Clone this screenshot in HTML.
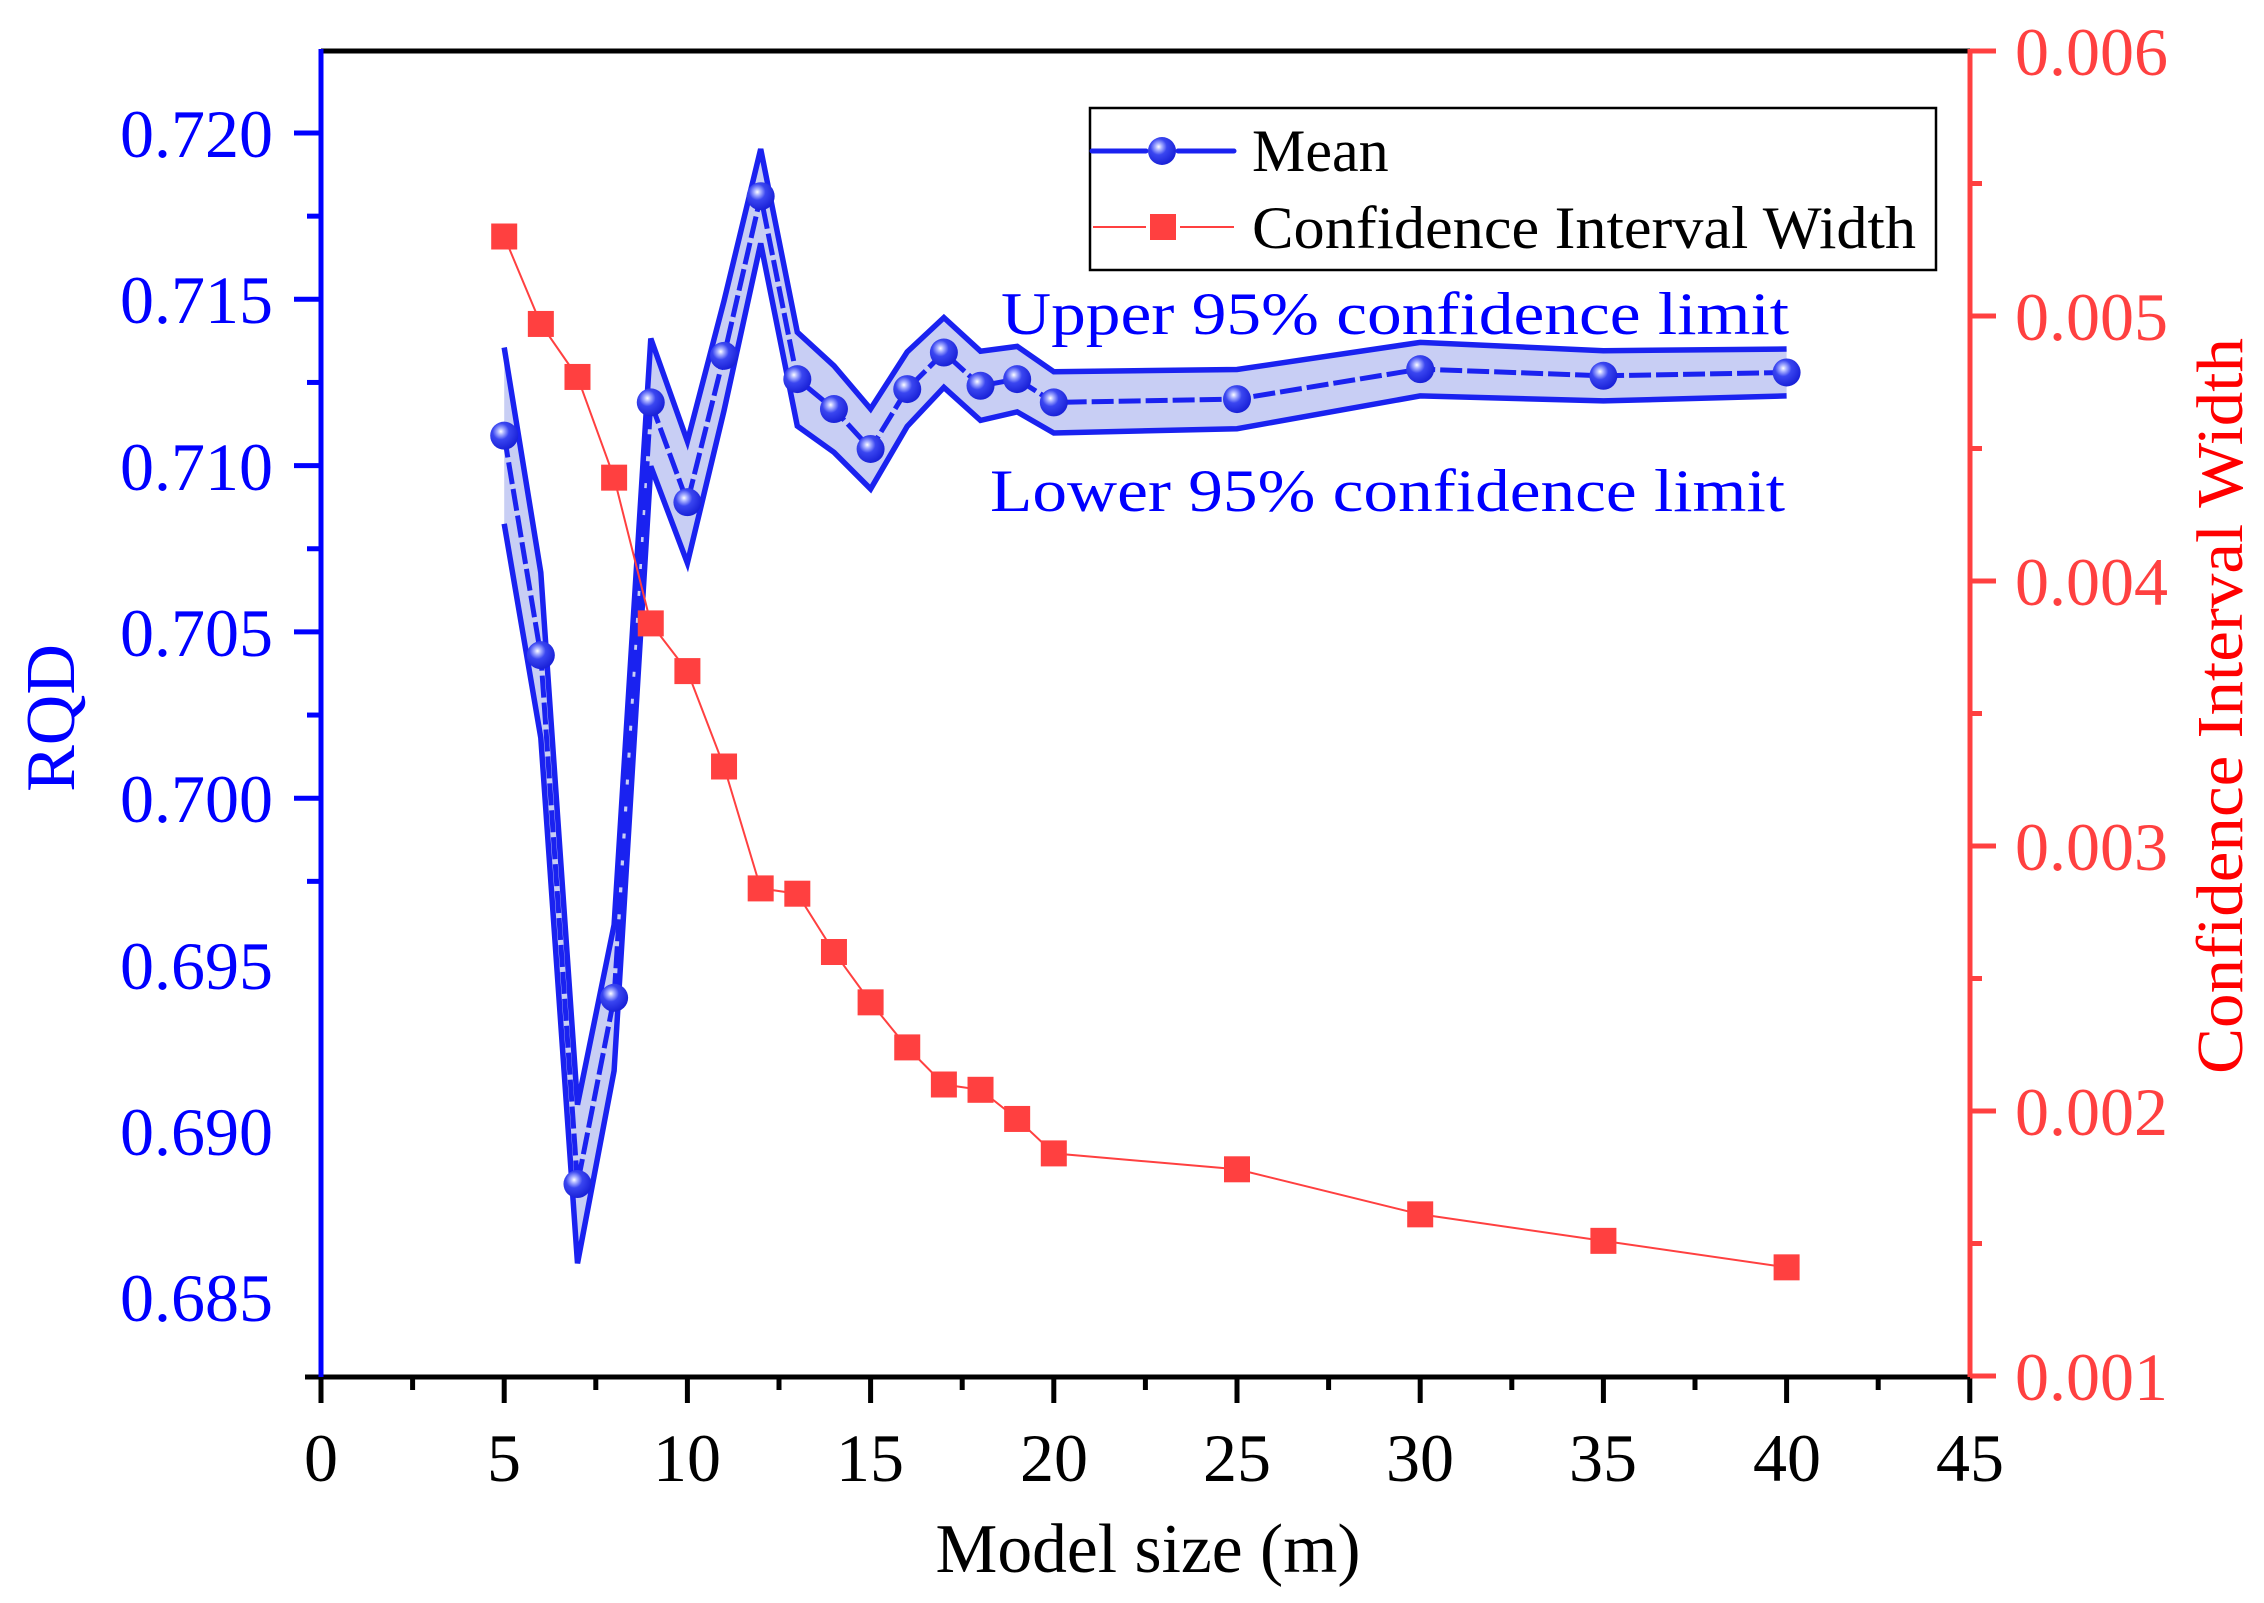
<!DOCTYPE html>
<html><head><meta charset="utf-8"><style>
html,body{margin:0;padding:0;background:#fff;}
svg{display:block;}
text{font-family:"Liberation Serif",serif;}
</style></head><body>
<svg id="s" width="2264" height="1603" viewBox="0 0 2264 1603" xmlns="http://www.w3.org/2000/svg">
<defs>
<radialGradient id="sph" cx="0.38" cy="0.35" r="0.65">
<stop offset="0" stop-color="#ffffff"/>
<stop offset="0.18" stop-color="#a8b0ff"/>
<stop offset="0.45" stop-color="#3a46f0"/>
<stop offset="1" stop-color="#1a22d8"/>
</radialGradient>
</defs>
<g id="data"></g>
<line x1="321" y1="51" x2="1970" y2="51" stroke="#000" stroke-width="5"/>
<line x1="305" y1="1377" x2="1970" y2="1377" stroke="#000" stroke-width="5"/>
<line x1="321" y1="49" x2="321" y2="1379" stroke="#0000ff" stroke-width="5"/>
<line x1="1970" y1="49" x2="1970" y2="1379" stroke="#ff4040" stroke-width="5"/>
<g id="ticks"></g>
<g fill="#0000ff" font-size="68" text-anchor="end">
<text x="273" y="157">0.720</text>
<text x="273" y="323">0.715</text>
<text x="273" y="490">0.710</text>
<text x="273" y="656">0.705</text>
<text x="273" y="822">0.700</text>
<text x="273" y="989">0.695</text>
<text x="273" y="1155">0.690</text>
<text x="273" y="1321">0.685</text>
</g>
<g fill="#ff4040" font-size="68" text-anchor="start">
<text x="2015" y="75">0.006</text>
<text x="2015" y="340">0.005</text>
<text x="2015" y="605">0.004</text>
<text x="2015" y="870">0.003</text>
<text x="2015" y="1135">0.002</text>
<text x="2015" y="1400">0.001</text>
</g>
<g fill="#000" font-size="68" text-anchor="middle">
<text x="321" y="1481">0</text>
<text x="504" y="1481">5</text>
<text x="687" y="1481">10</text>
<text x="870" y="1481">15</text>
<text x="1054" y="1481">20</text>
<text x="1237" y="1481">25</text>
<text x="1420" y="1481">30</text>
<text x="1603" y="1481">35</text>
<text x="1787" y="1481">40</text>
<text x="1970" y="1481">45</text>
</g>
<text x="1148" y="1572" font-size="70" text-anchor="middle" fill="#000" textLength="425" lengthAdjust="spacingAndGlyphs">Model size (m)</text>
<text transform="translate(74,718) rotate(-90)" font-size="70" text-anchor="middle" fill="#0000ff">RQD</text>
<text transform="translate(2242,706) rotate(-90)" font-size="66" text-anchor="middle" fill="#ff0000" textLength="736" lengthAdjust="spacingAndGlyphs">Confidence Interval Width</text>
<text x="1001" y="334" font-size="60" fill="#0000ff" textLength="788" lengthAdjust="spacingAndGlyphs">Upper 95% confidence limit</text>
<text x="990" y="511" font-size="60" fill="#0000ff" textLength="795" lengthAdjust="spacingAndGlyphs">Lower 95% confidence limit</text>
<rect x="1090" y="108" width="846" height="162" fill="#fff" stroke="#000" stroke-width="2.5"/>
<line x1="1092" y1="151" x2="1146" y2="151" stroke="#1a22f0" stroke-width="5" stroke-linecap="round"/>
<line x1="1178" y1="151" x2="1234" y2="151" stroke="#1a22f0" stroke-width="5" stroke-linecap="round"/>
<circle cx="1162" cy="151" r="14" fill="url(#sph)"/>
<line x1="1093" y1="227" x2="1146" y2="227" stroke="#ff4040" stroke-width="2"/>
<line x1="1180" y1="227" x2="1234" y2="227" stroke="#ff4040" stroke-width="2"/>
<rect x="1150" y="214" width="26" height="26" fill="#ff4040"/>
<text x="1252" y="171" font-size="60" fill="#000">Mean</text>
<text x="1252" y="248" font-size="60" fill="#000" textLength="664" lengthAdjust="spacingAndGlyphs">Confidence Interval Width</text>
</svg>
<script>
function X(v){return 321+v*36.64;}
function YL(v){return 133+(0.720-v)/0.005*166.3;}
function YR(v){return 51+(0.006-v)/0.001*265;}
var xs=[5,6,7,8,9,10,11,12,13,14,15,16,17,18,19,20,25,30,35,40];
var m=[0.7109,0.7043,0.6884,0.6940,0.7119,0.7089,0.7133,0.7181,0.7126,0.7117,0.7105,0.7123,0.7134,0.7124,0.7126,0.7119,0.7120,0.7129,0.7127,0.7128];
var ci=[0.00530,0.00497,0.00477,0.00439,0.00384,0.00366,0.00330,0.00284,0.00282,0.00260,0.00241,0.00224,0.00210,0.00208,0.00197,0.00184,0.00178,0.00161,0.00151,0.00141];
var g=document.getElementById("data"),h="";
var up=xs.map(function(x,i){return X(x).toFixed(1)+","+YL(m[i]+ci[i]/2).toFixed(1);});
var lo=xs.map(function(x,i){return X(x).toFixed(1)+","+YL(m[i]-ci[i]/2).toFixed(1);});
h+='<polygon points="'+up.join(" ")+" "+lo.slice().reverse().join(" ")+'" fill="#c8cef4"/>';
h+='<polyline points="'+up.join(" ")+'" fill="none" stroke="#1a22f0" stroke-width="5.5"/>';
h+='<polyline points="'+lo.join(" ")+'" fill="none" stroke="#1a22f0" stroke-width="5.5"/>';
var mp=xs.map(function(x,i){return X(x).toFixed(1)+","+YL(m[i]).toFixed(1);});
h+='<polyline points="'+mp.join(" ")+'" fill="none" stroke="#1a22f0" stroke-width="5" stroke-dasharray="22,5"/>';
var rp=xs.map(function(x,i){return X(x).toFixed(1)+","+YR(ci[i]).toFixed(1);});
h+='<polyline points="'+rp.join(" ")+'" fill="none" stroke="#ff4040" stroke-width="2"/>';
xs.forEach(function(x,i){h+='<rect x="'+(X(x)-13)+'" y="'+(YR(ci[i])-13)+'" width="26" height="26" fill="#ff4040"/>';});
xs.forEach(function(x,i){h+='<circle cx="'+X(x)+'" cy="'+YL(m[i])+'" r="14" fill="url(#sph)"/>';});
g.innerHTML=h;
var t="",i;
for(i=0;i<=18;i++){var x=321+i*2.5*36.64;t+='<line x1="'+x+'" y1="1377" x2="'+x+'" y2="'+(i%2?1390:1403)+'" stroke="#000" stroke-width="5"/>';}
for(i=0;i<=9;i++){var y=133+i*0.0025/0.005*166.3;if(y>1377)break;t+='<line x1="321" y1="'+y+'" x2="'+(i%2?307:294)+'" y2="'+y+'" stroke="#0000ff" stroke-width="5"/>';}
for(i=0;i<=10;i++){var y2=51+i*132.5;t+='<line x1="1970" y1="'+y2+'" x2="'+(i%2?1982:1996)+'" y2="'+y2+'" stroke="#ff4040" stroke-width="5"/>';}
document.getElementById("ticks").innerHTML=t;
</script>
</body></html>
